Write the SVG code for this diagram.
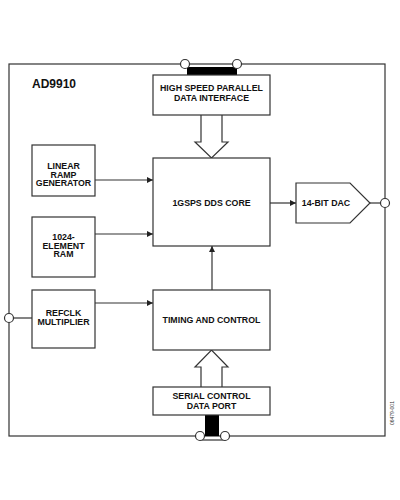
<svg xmlns="http://www.w3.org/2000/svg" width="400" height="500" viewBox="0 0 400 500">
<defs>
<marker id="ah" viewBox="0 0 10 10" refX="10" refY="5" markerWidth="8" markerHeight="6" markerUnits="userSpaceOnUse" orient="auto">
<path d="M0,0 L10,5 L0,10 z" fill="#222"/>
</marker>
<style>
.bx{fill:#fff;stroke:#333;stroke-width:1.2}
.ln{fill:none;stroke:#333;stroke-width:1.2}
.t{font-family:"Liberation Sans",Arial,sans-serif;font-weight:bold;font-size:8.8px;fill:#111;text-anchor:middle}
.pin{fill:#fff;stroke:#333;stroke-width:1.2}
</style>
</defs>
<rect width="400" height="500" fill="#fff"/>
<g id="frame">
<rect x="9" y="64" width="376" height="372" class="ln"/>
<text x="32" y="88" font-family="Liberation Sans,Arial,sans-serif" font-weight="bold" font-size="12" fill="#111">AD9910</text>
<text transform="translate(394,425) rotate(-90)" font-family="Liberation Sans,Arial,sans-serif" font-size="5" fill="#333">06479-001</text>
</g>
<g id="connectors">
<line x1="95" y1="180" x2="153" y2="180" class="ln" marker-end="url(#ah)"/>
<line x1="95" y1="234" x2="153" y2="234" class="ln" marker-end="url(#ah)"/>
<line x1="95" y1="303" x2="153" y2="303" class="ln" marker-end="url(#ah)"/>
<line x1="14" y1="318" x2="32" y2="318" class="ln"/>
<line x1="212" y1="290" x2="212" y2="246" class="ln" marker-end="url(#ah)"/>
<line x1="270" y1="203" x2="296" y2="203" class="ln" marker-end="url(#ah)"/>
<line x1="370" y1="203" x2="381" y2="203" class="ln"/>
<path d="M201,115 L201,142 L195,142 L211.5,158 L228,142 L222,142 L222,115" class="ln" fill="#fff"/>
<path d="M201,387 L201,367 L195,367 L211.5,350 L228,367 L222,367 L222,387" class="ln" fill="#fff"/>
</g>
<g id="top-port">
<rect x="187" y="67" width="50" height="8" fill="#000"/>
<circle cx="185" cy="64" r="4.5" class="pin"/>
<circle cx="237" cy="64" r="4.5" class="pin"/>
</g>
<g id="bottom-port">
<rect x="205" y="415" width="14" height="21" fill="#000"/>
<line x1="200" y1="440" x2="225" y2="440" class="ln"/>
<circle cx="200" cy="436" r="4.5" class="pin"/>
<circle cx="225" cy="436" r="4.5" class="pin"/>
</g>
<g id="refclk-pin"><circle cx="9" cy="318" r="4.5" class="pin"/></g>
<g id="dac-pin"><circle cx="385" cy="203" r="4.5" class="pin"/></g>
<g id="hspdi">
<rect x="153" y="75" width="117" height="40" class="bx"/>
<text x="211.5" y="91" class="t">HIGH SPEED PARALLEL</text>
<text x="211.5" y="101" class="t">DATA INTERFACE</text>
</g>
<g id="core">
<rect x="153" y="158" width="117" height="88" class="bx"/>
<text x="211.5" y="206" class="t">1GSPS DDS CORE</text>
</g>
<g id="ramp">
<rect x="32" y="145" width="63" height="51" class="bx"/>
<text x="63.5" y="169" class="t">LINEAR</text>
<text x="63.5" y="177.5" class="t">RAMP</text>
<text x="63.5" y="186" class="t">GENERATOR</text>
</g>
<g id="ram">
<rect x="32" y="217" width="63" height="60" class="bx"/>
<text x="63.5" y="240" class="t">1024-</text>
<text x="63.5" y="248.5" class="t">ELEMENT</text>
<text x="63.5" y="257" class="t">RAM</text>
</g>
<g id="refclk">
<rect x="32" y="290" width="63" height="58" class="bx"/>
<text x="63.5" y="316" class="t">REFCLK</text>
<text x="63.5" y="325" class="t">MULTIPLIER</text>
</g>
<g id="timing">
<rect x="153" y="290" width="117" height="60" class="bx"/>
<text x="211.5" y="323" class="t">TIMING AND CONTROL</text>
</g>
<g id="serial">
<rect x="153" y="387" width="117" height="28" class="bx"/>
<text x="211.5" y="399" class="t">SERIAL CONTROL</text>
<text x="211.5" y="409" class="t">DATA PORT</text>
</g>
<g id="dac">
<path d="M296,183 L350,183 L370,203 L350,223 L296,223 Z" class="bx"/>
<text x="326" y="206" class="t">14-BIT DAC</text>
</g>
</svg>
